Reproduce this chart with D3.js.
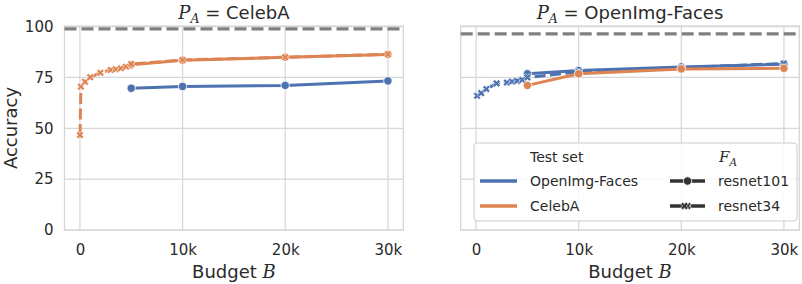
<!DOCTYPE html>
<html><head><meta charset="utf-8">
<script src="https://cdn.jsdelivr.net/npm/d3@7"></script>
<style>
body{margin:0;background:#fff}
text{font-family:"DejaVu Sans",sans-serif;fill:#2a2a2a}
.math{font-family:"DejaVu Serif",serif;font-style:italic}
</style>
</head><body>
<svg id="c" width="802" height="284"></svg>
<script>
// ---------- data ----------
const xTicks = [0, 10000, 20000, 30000];
const yTicks = [0, 25, 50, 75, 100];
const panelTitles = ["CelebA", "OpenImg-Faces"];
const refLines = [98.9, 96.4];
const testSets = ["OpenImg-Faces", "CelebA"];
const models = ["resnet101", "resnet34"];

const bigBudget = [5000, 10000, 20000, 30000];
// left panel (P_A = CelebA)
const celebaR34BudgetL = [10, 100, 500, 1000, 2000, 3000, 3500, 4000, 4500, 5000, 10000, 20000, 30000];
const celebaR34L = [46.7, 70.5, 72.9, 75.1, 77.3, 78.7, 79.0, 79.5, 80.3, 81.6, 83.6, 84.9, 86.4];
const celebaR101L = [81.2, 83.5, 84.9, 86.3];
const openimgR101L = [69.7, 70.6, 71.1, 73.3];
// right panel (P_A = OpenImg-Faces)
const openimgR34BudgetR = [100, 500, 1000, 2000, 3000, 3500, 4000, 4500, 5000, 10000, 20000, 30000];
const openimgR34R = [66.0, 67.3, 69.3, 72.1, 72.5, 73.0, 73.3, 73.8, 75.0, 77.8, 79.8, 81.9];
const openimgR101R = [76.8, 78.4, 80.2, 81.5];
const celebaR101R = [71.1, 76.8, 79.2, 79.5];

// ---------- style ----------
const colors = {"OpenImg-Faces": "#4C72B0", "CelebA": "#DD8452"};
const gridColor = "#d6d6d6";
const svg = d3.select("#c");

const panels = [
  {x0: 64.5, x1: 403.3, title: panelTitles[0], ref: refLines[0], yLabels: true,
   series: [
     {set: "OpenImg-Faces", model: "resnet101", b: bigBudget, v: openimgR101L},
     {set: "CelebA", model: "resnet101", b: bigBudget, v: celebaR101L},
     {set: "CelebA", model: "resnet34", b: celebaR34BudgetL, v: celebaR34L}
   ]},
  {x0: 460.7, x1: 799.3, title: panelTitles[1], ref: refLines[1], yLabels: false,
   series: [
     {set: "OpenImg-Faces", model: "resnet101", b: bigBudget, v: openimgR101R},
     {set: "OpenImg-Faces", model: "resnet34", b: openimgR34BudgetR, v: openimgR34R},
     {set: "CelebA", model: "resnet101", b: bigBudget, v: celebaR101R}
   ]}
];

const plotTop = 26, plotBottom = 230;
const y = d3.scaleLinear().domain([0, 100.3]).range([plotBottom, plotTop]);
const xSym = d3.symbol().type(d3.symbolCross).size(36);
const fmtK = d => d === 0 ? "0" : (d / 1000) + "k";

function drawMarker(g, model, cx, cy, color) {
  if (model === "resnet101") {
    g.append("circle").attr("cx", cx).attr("cy", cy).attr("r", 4.2)
      .attr("fill", color).attr("stroke", "#fff").attr("stroke-width", 0.8);
  } else {
    g.append("path").attr("d", xSym())
      .attr("transform", `translate(${cx},${cy}) rotate(45)`)
      .attr("fill", color).attr("stroke", "#fff").attr("stroke-width", 0.6);
  }
}

panels.forEach(p => {
  const x = d3.scaleLinear().domain([-1500, 31500]).range([p.x0, p.x1]);
  const g = svg.append("g");
  // grid
  g.selectAll(".gx").data(xTicks).join("line")
    .attr("x1", d => x(d)).attr("x2", d => x(d)).attr("y1", plotTop).attr("y2", plotBottom)
    .attr("stroke", gridColor).attr("stroke-width", 1.2);
  g.selectAll(".gy").data(yTicks).join("line")
    .attr("x1", p.x0).attr("x2", p.x1).attr("y1", d => y(d)).attr("y2", d => y(d))
    .attr("stroke", gridColor).attr("stroke-width", 1.2);
  // frame
  g.append("rect").attr("x", p.x0).attr("y", plotTop).attr("width", p.x1 - p.x0).attr("height", plotBottom - plotTop)
    .attr("fill", "none").attr("stroke", gridColor).attr("stroke-width", 1.3);
  // reference line
  g.append("line").attr("x1", p.x0).attr("x2", p.x1).attr("y1", y(p.ref)).attr("y2", y(p.ref))
    .attr("stroke", "#808080").attr("stroke-width", 3.2).attr("stroke-dasharray", "12,5");
  // axes
  const xa = g.append("g").attr("transform", `translate(0,${plotBottom})`)
    .call(d3.axisBottom(x).tickValues(xTicks).tickFormat(fmtK).tickSize(0).tickPadding(14));
  xa.select(".domain").remove();
  xa.selectAll("text").attr("font-size", 15).attr("font-family", "DejaVu Sans").attr("fill", "#2a2a2a");
  if (p.yLabels) {
    const ya = g.append("g").attr("transform", `translate(${p.x0},0)`)
      .call(d3.axisLeft(y).tickValues(yTicks).tickSize(0).tickPadding(11));
    ya.select(".domain").remove();
    ya.selectAll("text").attr("font-size", 15).attr("font-family", "DejaVu Sans").attr("fill", "#2a2a2a");
  }
  // series
  p.series.forEach(s => {
    const pts = s.b.map((b, i) => [x(b), y(s.v[i])]);
    g.append("path").attr("d", d3.line()(pts)).attr("fill", "none")
      .attr("stroke", colors[s.set]).attr("stroke-width", 3)
      .attr("stroke-dasharray", s.model === "resnet34" ? "11,4.5" : null);
    pts.forEach(pt => drawMarker(g, s.model, pt[0], pt[1], colors[s.set]));
  });
  // title
  const cx = (p.x0 + p.x1) / 2;
  const t = svg.append("text").attr("x", cx).attr("y", 18.5).attr("text-anchor", "middle").attr("font-size", 18);
  t.append("tspan").attr("class", "math").text("P");
  t.append("tspan").attr("class", "math").attr("font-size", 12.5).attr("dy", 4).text("A");
  t.append("tspan").attr("dy", -4).text(" = " + p.title);
  // x label
  const xl = svg.append("text").attr("x", cx).attr("y", 278).attr("text-anchor", "middle").attr("font-size", 18);
  xl.append("tspan").text("Budget ");
  xl.append("tspan").attr("class", "math").text("B");
});

// y label
svg.append("text").attr("transform", "translate(17,128) rotate(-90)").attr("text-anchor", "middle")
  .attr("font-size", 18).text("Accuracy");

// legend
const lg = svg.append("g");
lg.append("rect").attr("x", 474).attr("y", 143).attr("width", 323).attr("height", 78).attr("rx", 3)
  .attr("fill", "#fff").attr("fill-opacity", 0.85).attr("stroke", "#cccccc").attr("stroke-width", 1);
lg.append("text").attr("x", 530).attr("y", 162).attr("font-size", 14).text("Test set");
const fa = lg.append("text").attr("x", 719).attr("y", 162).attr("font-size", 15);
fa.append("tspan").attr("class", "math").text("F");
fa.append("tspan").attr("class", "math").attr("font-size", 10.5).attr("dy", 3.5).text("A");
const rowY = [181, 206];
testSets.forEach((ts, i) => {
  lg.append("line").attr("x1", 480).attr("x2", 517).attr("y1", rowY[i]).attr("y2", rowY[i])
    .attr("stroke", colors[ts]).attr("stroke-width", 3.5);
  lg.append("text").attr("x", 530).attr("y", rowY[i] + 5).attr("font-size", 14).text(ts);
});
models.forEach((m, i) => {
  lg.append("line").attr("x1", 670).attr("x2", 705).attr("y1", rowY[i]).attr("y2", rowY[i])
    .attr("stroke", "#333").attr("stroke-width", 3.5)
    .attr("stroke-dasharray", m === "resnet34" ? "14.5,6" : null);
  drawMarker(lg, m, 687.5, rowY[i], "#333");
  if (m === "resnet34") drawMarker(lg, m, 684.5, rowY[i], "#333");
  lg.append("text").attr("x", 718).attr("y", rowY[i] + 5).attr("font-size", 14).text(m);
});
</script>
</body></html>
